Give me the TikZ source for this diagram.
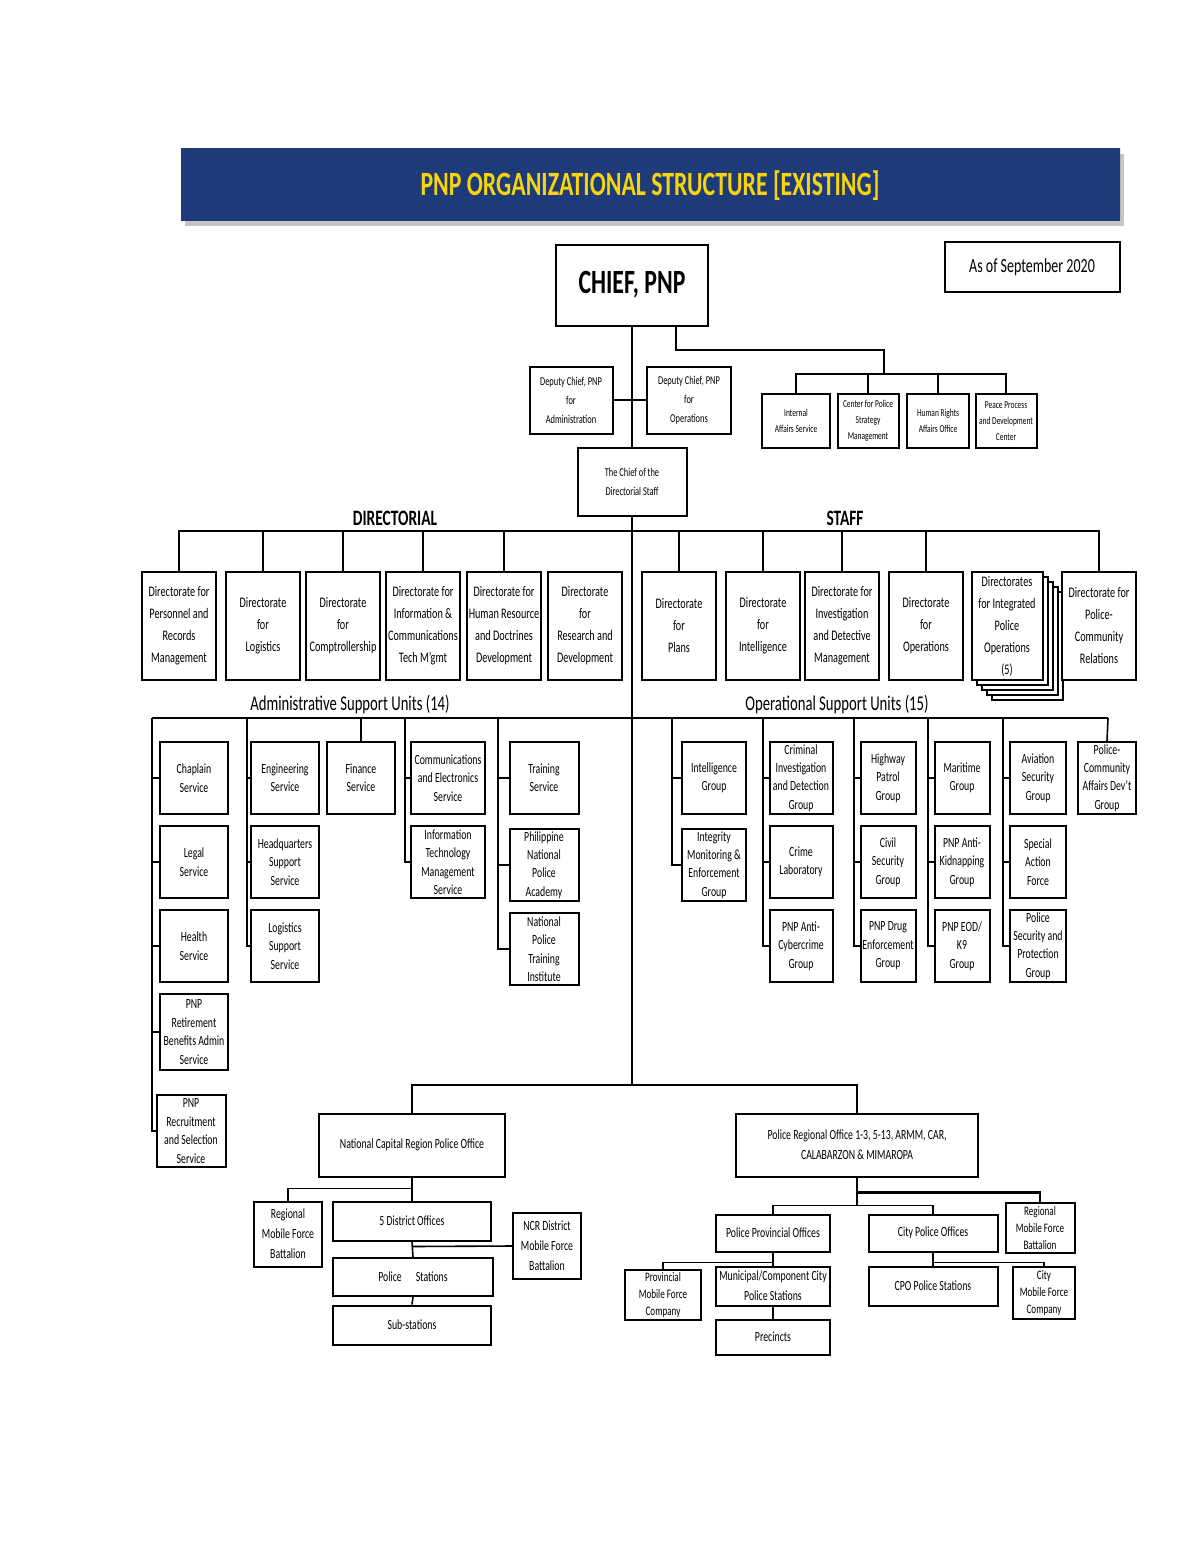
\documentclass[tikz,border=0pt]{standalone}
\usepackage{fontspec}
\setmainfont{Carlito}[FakeStretch=0.7]
\usepackage{tikz}
\usetikzlibrary{positioning,calc}
\definecolor{pnpblue}{HTML}{1E3A78}
\definecolor{pnpmid}{HTML}{4A6FBF}
\definecolor{pnpyellow}{HTML}{F7D40C}
\tikzset{
    % Plain org box
    ubox/.style={
        rectangle,
        draw=black,
        line width=1pt,
        fill=white,
        align=center,
        inner sep=0.5pt
    },
    % size in reference pixels
    sz/.style 2 args={minimum width=#1*0.5pt, minimum height=#2*0.5pt},
    tinyfont/.style={font=\fontsize{5.3}{8}\selectfont},
    depfont/.style={font=\fontsize{6}{9.5}\selectfont},
    dirfont/.style={font=\fontsize{7.3}{11}\selectfont},
    supfont/.style={font=\fontsize{7}{9.2}\selectfont},
    botfont/.style={font=\fontsize{7}{10}\selectfont},
    % Connector
    link/.style={draw=black, line width=0.8pt},
    % Section heading
    heading/.style={font=\fontsize{11}{12}\selectfont\bfseries}
}
\begin{document}
\begin{tikzpicture}[x=0.5pt, y=-0.5pt]
    \useasboundingbox (0,0) rectangle (1200,1553);

    % Title banner
    \fill[gray!45] (185,154) rectangle (1124,226);
    \shade[top color=pnpblue, middle color=pnpmid, bottom color=pnpblue] (181,148) rectangle (1120,220);
    \node[font=\fontsize{17}{18}\selectfont\bfseries, text=pnpyellow] (title) at (650,186) {PNP ORGANIZATIONAL STRUCTURE [EXISTING]};

    \node[ubox, sz={175}{50}, font=\fontsize{10}{12}\selectfont] (asof) at (1032,267) {As of September 2020};

    % Command group
    \node[ubox, sz={152}{81}, font=\fontsize{17}{18}\selectfont\bfseries] (chief) at (632,285) {CHIEF, PNP};
    \node[ubox, sz={83}{67}, depfont] (dca) at (571,400) {Deputy Chief, PNP\\for\\Administration};
    \node[ubox, sz={84}{67}, depfont] (dco) at (689,400) {Deputy Chief, PNP\\for\\Operations};
    \node[ubox, sz={109}{68}, depfont] (cds) at (632,482) {The Chief of the\\Directorial Staff};

    \node[ubox, sz={68}{54}, tinyfont] (ias) at (796,421) {Internal\\Affairs Service};
    \node[ubox, sz={61}{54}, tinyfont] (cpsm) at (868,421) {Center for Police\\Strategy\\Management};
    \node[ubox, sz={62}{54}, tinyfont] (hrao) at (938,421) {Human Rights\\Affairs Office};
    \node[ubox, sz={61}{54}, tinyfont] (ppdc) at (1006,421) {Peace Process\\and Development\\Center};

    \coordinate (mainEnd) at (632,1085);
    \draw[link] (chief.south) -- (cds.north);
    \draw[link] (cds.south) -- (mainEnd);
    \draw[link] (dca.east) -- (dco.west);
    \draw[link] ([xshift=22pt]chief.south) |- (884,350) -- (884,375);
    \draw[link] (ias.north) -- ++(0,-19) -| (ppdc.north);
    \draw[link] (cpsm.north) -- ++(0,-19);
    \draw[link] (hrao.north) -- ++(0,-19);

    % Directorial staff
    \node[heading] (hdir) at (395,518) {DIRECTORIAL};
    \node[heading] (hstaff) at (845,518) {STAFF};

    \node[ubox, sz={74}{108}, dirfont] (dprm) at (179,626) {Directorate for\\Personnel and\\Records\\Management};
    \node[ubox, sz={74}{108}, dirfont] (dl) at (263,626) {Directorate\\for\\Logistics};
    \node[ubox, sz={74}{108}, dirfont] (dc) at (343,626) {Directorate\\for\\Comptrollership};
    \node[ubox, sz={74}{108}, dirfont] (dict) at (423,626) {Directorate for\\Information \&\\Communications\\Tech M'gmt};
    \node[ubox, sz={74}{108}, dirfont] (dhrdd) at (504,626) {Directorate for\\Human Resource\\and Doctrines\\Development};
    \node[ubox, sz={74}{108}, dirfont] (drd) at (585,626) {Directorate\\for\\Research and\\Development};
    \node[ubox, sz={74}{108}, dirfont] (dpl) at (679,626) {Directorate\\for\\Plans};
    \node[ubox, sz={74}{108}, dirfont] (di) at (763,626) {Directorate\\for\\Intelligence};
    \node[ubox, sz={74}{108}, dirfont] (didm) at (842,626) {Directorate for\\Investigation\\and Detective\\Management};
    \node[ubox, sz={74}{108}, dirfont] (do) at (926,626) {Directorate\\for\\Operations};
    \foreach \k in {4,3,2,1}
        \draw[line width=0.8pt, fill=white] (972+5*\k,572+5*\k) rectangle ++(71,108);
    \node[ubox, sz={71}{108}, dirfont] (dipo) at (1007,626) {Directorates\\for Integrated\\Police\\Operations\\(5)};
    \node[ubox, sz={74}{108}, dirfont] (dpcr) at (1099,626) {Directorate for\\Police-\\Community\\Relations};

    \draw[link] (dprm.north) -- ++(0,-40) -| (dpcr.north);
    \foreach \n in {dl,dc,dict,dhrdd,dpl,di,didm,do}
        \draw[link] (\n.north) -- ++(0,-40);

    % Support units
    \node[heading, font=\fontsize{10.5}{12}\selectfont] (hadm) at (350,705) {Administrative Support Units (14)};
    \node[heading, font=\fontsize{10.5}{12}\selectfont] (hops) at (837,705) {Operational Support Units (15)};

    \coordinate (sbL) at (152,718);
    \coordinate (sbR) at (1108,718);
    \coordinate (a2) at (247,718);
    \coordinate (a4) at (405,718);
    \coordinate (a5) at (498,718);
    \coordinate (o1) at (672,718);
    \coordinate (o2) at (763,718);
    \coordinate (o3) at (854,718);
    \coordinate (o4) at (928,718);
    \coordinate (o5) at (1003,718);
    \draw[link, line width=1.2pt] (sbL) -- (sbR);

    \node[ubox, sz={68}{72}, supfont] (chap) at (194,778) {Chaplain\\Service};
    \node[ubox, sz={68}{72}, supfont] (legal) at (194,862) {Legal\\Service};
    \node[ubox, sz={68}{72}, supfont] (health) at (194,946) {Health\\Service};
    \node[ubox, sz={68}{76}, supfont] (prbas) at (194,1032) {PNP\\Retirement\\Benefits Admin\\Service};
    \node[ubox, sz={69}{72}, supfont] (prss) at (191,1131) {PNP\\Recruitment\\and Selection\\Service};

    \node[ubox, sz={68}{72}, supfont] (eng) at (285,778) {Engineering\\Service};
    \node[ubox, sz={68}{72}, supfont] (hss) at (285,862) {Headquarters\\Support\\Service};
    \node[ubox, sz={68}{72}, supfont] (lss) at (285,946) {Logistics\\Support\\Service};

    \node[ubox, sz={68}{72}, supfont] (fin) at (361,778) {Finance\\Service};

    \node[ubox, sz={74}{72}, supfont] (ces) at (448,778) {Communications\\and Electronics\\Service};
    \node[ubox, sz={74}{72}, supfont] (itms) at (448,862) {Information\\Technology\\Management\\Service};

    \node[ubox, sz={69}{72}, supfont] (trs) at (544,778) {Training\\Service};
    \node[ubox, sz={69}{72}, supfont] (pnpa) at (544,865) {Philippine\\National\\Police\\Academy};
    \node[ubox, sz={69}{72}, supfont] (npti) at (544,949) {National\\Police\\Training\\Institute};

    \node[ubox, sz={64}{72}, supfont] (ig) at (714,778) {Intelligence\\Group};
    \node[ubox, sz={64}{72}, supfont] (imeg) at (714,865) {Integrity\\Monitoring \&\\Enforcement\\Group};

    \node[ubox, sz={63}{72}, supfont] (cidg) at (801,778) {Criminal\\Investigation\\and Detection\\Group};
    \node[ubox, sz={63}{72}, supfont] (crl) at (801,862) {Crime\\Laboratory};
    \node[ubox, sz={63}{72}, supfont] (acg) at (801,946) {PNP Anti-\\Cybercrime\\Group};

    \node[ubox, sz={55}{72}, supfont] (hpg) at (888,778) {Highway\\Patrol\\Group};
    \node[ubox, sz={55}{72}, supfont] (csg) at (888,862) {Civil\\Security\\Group};
    \node[ubox, sz={55}{72}, supfont] (deg) at (888,946) {PNP Drug\\Enforcement\\Group};

    \node[ubox, sz={55}{72}, supfont] (mg) at (962,778) {Maritime\\Group};
    \node[ubox, sz={55}{72}, supfont] (akg) at (962,862) {PNP Anti-\\Kidnapping\\Group};
    \node[ubox, sz={55}{72}, supfont] (eod) at (962,946) {PNP EOD/\\K9\\Group};

    \node[ubox, sz={56}{72}, supfont] (avsg) at (1038,778) {Aviation\\Security\\Group};
    \node[ubox, sz={56}{72}, supfont] (saf) at (1038,862) {Special\\Action\\Force};
    \node[ubox, sz={56}{72}, supfont] (pspg) at (1038,946) {Police\\Security and\\Protection\\Group};

    \node[ubox, sz={58}{72}, supfont] (pcadg) at (1107,778) {Police-\\Community\\Affairs Dev't\\Group};

    \foreach \n in {chap,legal,health,prbas,prss} \draw[link] (sbL) |- (\n.west);
    \foreach \n in {eng,hss,lss} \draw[link] (a2) |- (\n.west);
    \foreach \n in {ces,itms} \draw[link] (a4) |- (\n.west);
    \foreach \n in {trs,pnpa,npti} \draw[link] (a5) |- (\n.west);
    \foreach \n in {ig,imeg} \draw[link] (o1) |- (\n.west);
    \foreach \n in {cidg,crl,acg} \draw[link] (o2) |- (\n.west);
    \foreach \n in {hpg,csg,deg} \draw[link] (o3) |- (\n.west);
    \foreach \n in {mg,akg,eod} \draw[link] (o4) |- (\n.west);
    \foreach \n in {avsg,saf,pspg} \draw[link] (o5) |- (\n.west);
    \draw[link] (fin.north) -- ++(0,-24);
    \draw[link] (sbR) -- (pcadg.north);

    % Regional offices
    \node[ubox, sz={186}{63}, botfont] (ncr) at (412,1145) {National Capital Region Police Office};
    \node[ubox, sz={242}{63}, botfont] (pro) at (857,1145) {Police Regional Office 1-3, 5-13, ARMM, CAR,\\CALABARZON \& MIMAROPA};
    \draw[link] (ncr.north) |- (mainEnd) -| (pro.north);

    \node[ubox, sz={68}{65}, botfont] (rmfbn) at (288,1234) {Regional\\Mobile Force\\Battalion};
    \node[ubox, sz={158}{39}, botfont] (do5) at (412,1221) {5 District Offices};
    \node[ubox, sz={160}{38}, botfont] (pstn) at (413,1277) {Police\quad Stations};
    \node[ubox, sz={158}{39}, botfont] (sub) at (412,1325) {Sub-stations};
    \node[ubox, sz={68}{66}, botfont] (ndmfb) at (547,1246) {NCR District\\Mobile Force\\Battalion};
    \draw[link] (ncr.south) -- (do5.north);
    \draw[link] ([yshift=-5.5pt]ncr.south) -| (rmfbn.north);
    \draw[link] (do5.south) -- (pstn.north);
    \draw[link] (pstn.south) -- (sub.north);
    \draw[link] ([yshift=-2.5pt]do5.south) -- (ndmfb.west);

    \node[ubox, sz={114}{37}, botfont] (ppo) at (773,1233) {Police Provincial Offices};
    \node[ubox, sz={129}{37}, botfont] (cpo) at (933,1233) {City Police Offices};
    \node[ubox, sz={69}{50}, font=\fontsize{6.5}{8.5}\selectfont] (rmfbp) at (1040,1228) {Regional\\Mobile Force\\Battalion};
    \node[ubox, sz={76}{50}, font=\fontsize{6.5}{8.5}\selectfont] (pmfc) at (663,1295) {Provincial\\Mobile Force\\Company};
    \node[ubox, sz={114}{39}, botfont] (mcps) at (773,1286) {Municipal/Component City\\Police Stations};
    \node[ubox, sz={114}{35}, botfont] (prec) at (773,1337) {Precincts};
    \node[ubox, sz={129}{39}, botfont] (cpos) at (933,1286) {CPO Police Stations};
    \node[ubox, sz={62}{52}, font=\fontsize{6.5}{8.5}\selectfont] (cmfc) at (1044,1293) {City\\Mobile Force\\Company};

    \draw[link, line width=1.2pt] (pro.south) -- ++(0,15) -| (rmfbp.north);
    \draw[link] (pro.south) -- ([yshift=-14pt]pro.south);
    \draw[link] ([yshift=-14pt]pro.south) -| (ppo.north);
    \draw[link] ([yshift=-14pt]pro.south) -| (cpo.north);
    \draw[link] (ppo.south) -- (mcps.north);
    \draw[link] ([yshift=-5pt]ppo.south) -| (pmfc.north);
    \draw[link] (mcps.south) -- (prec.north);
    \draw[link] (cpo.south) -- (cpos.north);
    \draw[link] ([yshift=-5pt]cpo.south) -| (cmfc.north);
\end{tikzpicture}
\end{document}
